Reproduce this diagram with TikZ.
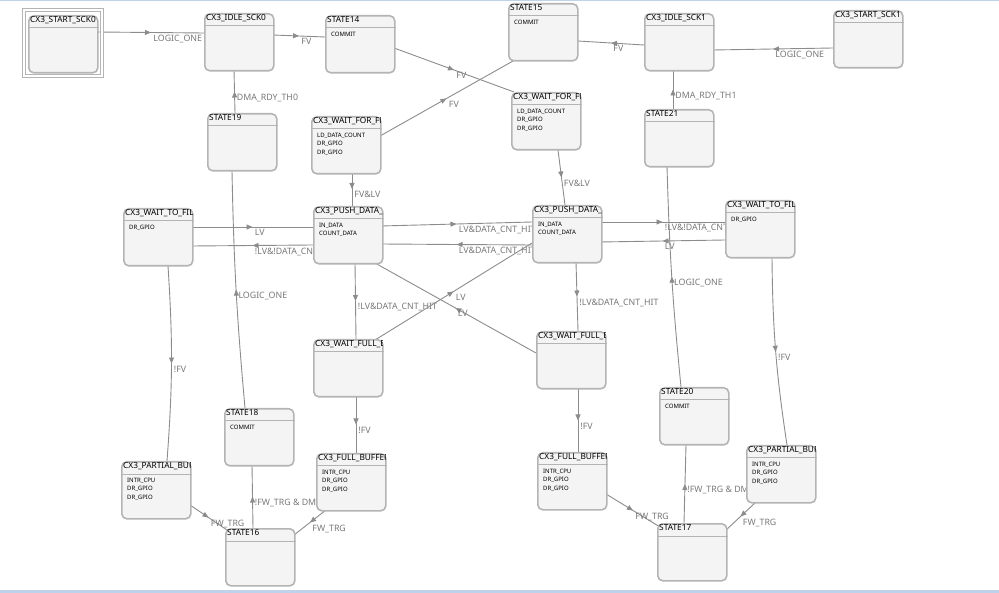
\documentclass[tikz,border=0pt]{standalone}
\usepackage{fontspec}
\setmainfont{Noto Sans}
\usetikzlibrary{arrows.meta,decorations.markings}
\definecolor{edgegray}{RGB}{140,140,140}
\definecolor{boxgray}{RGB}{180,180,180}
\definecolor{boxfill}{RGB}{244,244,244}
\definecolor{lblgray}{RGB}{120,120,120}
\definecolor{frameblue}{RGB}{190,210,235}
\tikzset{
  st/.style={draw=boxgray, line width=1.6pt, fill=boxfill, rounded corners=5pt,
    minimum width=69pt, minimum height=57pt, anchor=north west, inner sep=0pt},
  ttl/.style={anchor=north west, inner sep=0pt, font=\fontsize{8.3}{9}\selectfont},
  bdy/.style={anchor=north west, inner sep=0pt, align=left, font=\fontsize{6}{8.3}\selectfont},
  tr/.style={draw=edgegray, line width=0.9pt, postaction={decorate},
    decoration={markings, mark=at position 0.5 with {\arrow[edgegray]{Triangle[length=6pt,width=5pt]}}}},
  lbl/.style={pos=0.5, anchor=north west, text=lblgray, inner sep=2pt, font=\fontsize{8.8}{10}\selectfont},
}
% state box: name, x, y, title, body
\newcommand\stbox[5]{%
  \node[st] (#1) at (#2,#3) {};
  \begin{scope}
    \clip ([shift={(1,1)}]#1.north west) rectangle ([shift={(-1,13)}]#1.north east);
    \node[ttl] at ([shift={(2,1)}]#1.north west) {#4};
  \end{scope}
  \draw[boxgray, line width=1pt] ([shift={(0,13)}]#1.north west) -- ([shift={(0,13)}]#1.north east);
  \node[bdy] at ([shift={(6,17)}]#1.north west) {#5};
}
\begin{document}
\begin{tikzpicture}[x=1pt, y=-1pt]
\useasboundingbox (0,0) rectangle (999,593);
\draw[frameblue, line width=1pt] (0,1) -- (999,1);
\draw[frameblue, line width=3pt] (0,591) -- (999,591);

% transitions first, boxes on top
\newcommand\alltr{%
\draw[tr] ([shift={(70,17)}]start0.north west) -- node[lbl]{LOGIC\_ONE} ([shift={(0,20)}]idle0.north west);
\draw[tr] ([shift={(69,22)}]idle0.north west) -- node[lbl]{FV} ([shift={(0,22)}]s14.north west);
\draw[tr] ([shift={(69,33)}]s14.north west) -- node[lbl]{FV} ([shift={(3,0)}]waitfora.north west);
\draw[tr] ([shift={(69,20)}]waitforo.north west) -- node[lbl]{FV} ([shift={(5,58)}]s15.north west);
\draw[tr] ([shift={(0,32)}]idle1.north west) -- node[lbl]{FV} ([shift={(70,38)}]s15.north west);
\draw[tr] ([shift={(0,38)}]start1.north west) -- node[lbl]{LOGIC\_ONE} ([shift={(69,37)}]idle1.north west);
\draw[tr] ([shift={(28,0)}]s19.north west) -- node[lbl]{DMA\_RDY\_TH0} ([shift={(30,57)}]idle0.north west);
\draw[tr] ([shift={(29,0)}]s21.north west) -- node[lbl]{DMA\_RDY\_TH1} ([shift={(29,57)}]idle1.north west);
\draw[tr] ([shift={(41,56)}]waitforo.north west) -- node[lbl]{FV\&LV} ([shift={(39,0)}]pusho.north west);
\draw[tr] ([shift={(47,58)}]waitfora.north west) -- node[lbl]{FV\&LV} ([shift={(33,0)}]pusha.north west);
\draw[tr] ([shift={(69,19)}]waittoo.north west) -- node[lbl]{LV} ([shift={(0,21)}]pusho.north west);
\draw[tr] ([shift={(0,39)}]pusho.north west) -- node[lbl]{!LV\&!DATA\_CNT\_HIT} ([shift={(69,38)}]waittoo.north west);
\draw[tr] ([shift={(68,20)}]pusho.north west) -- node[lbl]{LV\&DATA\_CNT\_HIT} ([shift={(0,17)}]pusha.north west);
\draw[tr] ([shift={(0,40)}]pusha.north west) -- node[lbl]{LV\&DATA\_CNT\_HIT} ([shift={(68,38)}]pusho.north west);
\draw[tr] ([shift={(68,17)}]pusha.north west) -- node[lbl]{!LV\&!DATA\_CNT\_HIT} ([shift={(0,22)}]waittoa.north west);
\draw[tr] ([shift={(0,40)}]waittoa.north west) -- node[lbl]{LV} ([shift={(68,37)}]pusha.north west);
\draw[tr] ([shift={(42,57)}]pusho.north west) -- node[lbl]{!LV\&DATA\_CNT\_HIT} ([shift={(43,0)}]waitfullo.north west);
\draw[tr] ([shift={(62,1)}]waitfullo.north west) -- node[lbl]{LV} ([shift={(0,38)}]pusha.north west);
\draw[tr] ([shift={(0,22)}]waitfulla.north west) -- node[lbl]{LV} ([shift={(62,57)}]pusho.north west);
\draw[tr] ([shift={(44,57)}]pusha.north west) -- node[lbl]{!LV\&DATA\_CNT\_HIT} ([shift={(42,0)}]waitfulla.north west);
\draw[tr] ([shift={(45,58)}]waittoo.north west) to[bend left=4] node[lbl]{!FV} ([shift={(46,0)}]partialo.north west);
\draw[tr] ([shift={(47,58)}]waittoa.north west) to[bend right=4] node[lbl]{!FV} ([shift={(41,0)}]partiala.north west);
\draw[tr] ([shift={(43,57)}]waitfullo.north west) -- node[lbl]{!FV} ([shift={(40,0)}]fullo.north west);
\draw[tr] ([shift={(42,58)}]waitfulla.north west) -- node[lbl]{!FV} ([shift={(41,0)}]fulla.north west);
\draw[tr] ([shift={(69,44)}]partialo.north west) -- node[lbl]{FW\_TRG} ([shift={(2,2)}]s16.north west);
\draw[tr] ([shift={(10,57)}]fullo.north west) -- node[lbl]{FW\_TRG} ([shift={(69,7)}]s16.north west);
\draw[tr] ([shift={(28,0)}]s16.north west) -- node[lbl]{!FW\_TRG \& DMA\_RDY\_TH0} ([shift={(28,57)}]s18.north west);
\draw[tr] ([shift={(21,0)}]s18.north west) to[bend left=2] node[lbl]{LOGIC\_ONE} ([shift={(25,58)}]s19.north west);
\draw[tr] ([shift={(69,42)}]fulla.north west) -- node[lbl]{FW\_TRG} ([shift={(3,4)}]s17.north west);
\draw[tr] ([shift={(10,57)}]partiala.north west) -- node[lbl]{FW\_TRG} ([shift={(68,8)}]s17.north west);
\draw[tr] ([shift={(27,0)}]s17.north west) -- node[lbl]{!FW\_TRG \& DMA\_RDY\_TH1} ([shift={(27,58)}]s20.north west);
\draw[tr] ([shift={(22,0)}]s20.north west) to[bend left=2] node[lbl]{LOGIC\_ONE} ([shift={(23,57)}]s21.north west);
}
% place the named boxes first so transitions can refer to them
\foreach \n/\x/\y in {start0/28/15, idle0/204/13, s14/325/15, s15/508/3, waitforo/311/116,
  waitfora/511/92, idle1/644/13, start1/833/10, s19/207/113, s21/644/109, waittoo/123/208,
  pusho/313/206, pusha/532/205, waittoa/725/200, waitfullo/313/339, waitfulla/536/331,
  s18/224/408, s20/659/387, partialo/121/461, fullo/316/453, fulla/537/452, partiala/746/445,
  s16/225/528, s17/657/523}
  \path (\x,\y) node[st, draw=none, fill=none] (\n) {};
\alltr

\draw[boxgray, line width=1pt, double=white, double distance=1.5pt] (24,10) rectangle (102,76);
\stbox{start0}{28}{15}{CX3\_START\_SCK0}{}
\stbox{idle0}{204}{13}{CX3\_IDLE\_SCK0}{}
\stbox{s14}{325}{15}{STATE14}{COMMIT}
\stbox{s15}{508}{3}{STATE15}{COMMIT}
\stbox{waitforo}{311}{116}{CX3\_WAIT\_FOR\_FRAME\_SCK0}{LD\_DATA\_COUNT\\DR\_GPIO\\DR\_GPIO}
\stbox{waitfora}{511}{92}{CX3\_WAIT\_FOR\_FRAME\_SCK1}{LD\_DATA\_COUNT\\DR\_GPIO\\DR\_GPIO}
\stbox{idle1}{644}{13}{CX3\_IDLE\_SCK1}{}
\stbox{start1}{833}{10}{CX3\_START\_SCK1}{}
\stbox{s19}{207}{113}{STATE19}{}
\stbox{s21}{644}{109}{STATE21}{}
\stbox{waittoo}{123}{208}{CX3\_WAIT\_TO\_FILL\_SCK0}{DR\_GPIO}
\stbox{pusho}{313}{206}{CX3\_PUSH\_DATA\_SCK0}{IN\_DATA\\COUNT\_DATA}
\stbox{pusha}{532}{205}{CX3\_PUSH\_DATA\_SCK1}{IN\_DATA\\COUNT\_DATA}
\stbox{waittoa}{725}{200}{CX3\_WAIT\_TO\_FILL\_SCK1}{DR\_GPIO}
\stbox{waitfullo}{313}{339}{CX3\_WAIT\_FULL\_BUF\_SCK0}{}
\stbox{waitfulla}{536}{331}{CX3\_WAIT\_FULL\_BUF\_SCK1}{}
\stbox{s18}{224}{408}{STATE18}{COMMIT}
\stbox{s20}{659}{387}{STATE20}{COMMIT}
\stbox{partialo}{121}{461}{CX3\_PARTIAL\_BUF\_SCK0}{INTR\_CPU\\DR\_GPIO\\DR\_GPIO}
\stbox{fullo}{316}{453}{CX3\_FULL\_BUFFER\_SCK0}{INTR\_CPU\\DR\_GPIO\\DR\_GPIO}
\stbox{fulla}{537}{452}{CX3\_FULL\_BUFFER\_SCK1}{INTR\_CPU\\DR\_GPIO\\DR\_GPIO}
\stbox{partiala}{746}{445}{CX3\_PARTIAL\_BUF\_SCK1}{INTR\_CPU\\DR\_GPIO\\DR\_GPIO}
\stbox{s16}{225}{528}{STATE16}{}
\stbox{s17}{657}{523}{STATE17}{}
\end{tikzpicture}
\end{document}
